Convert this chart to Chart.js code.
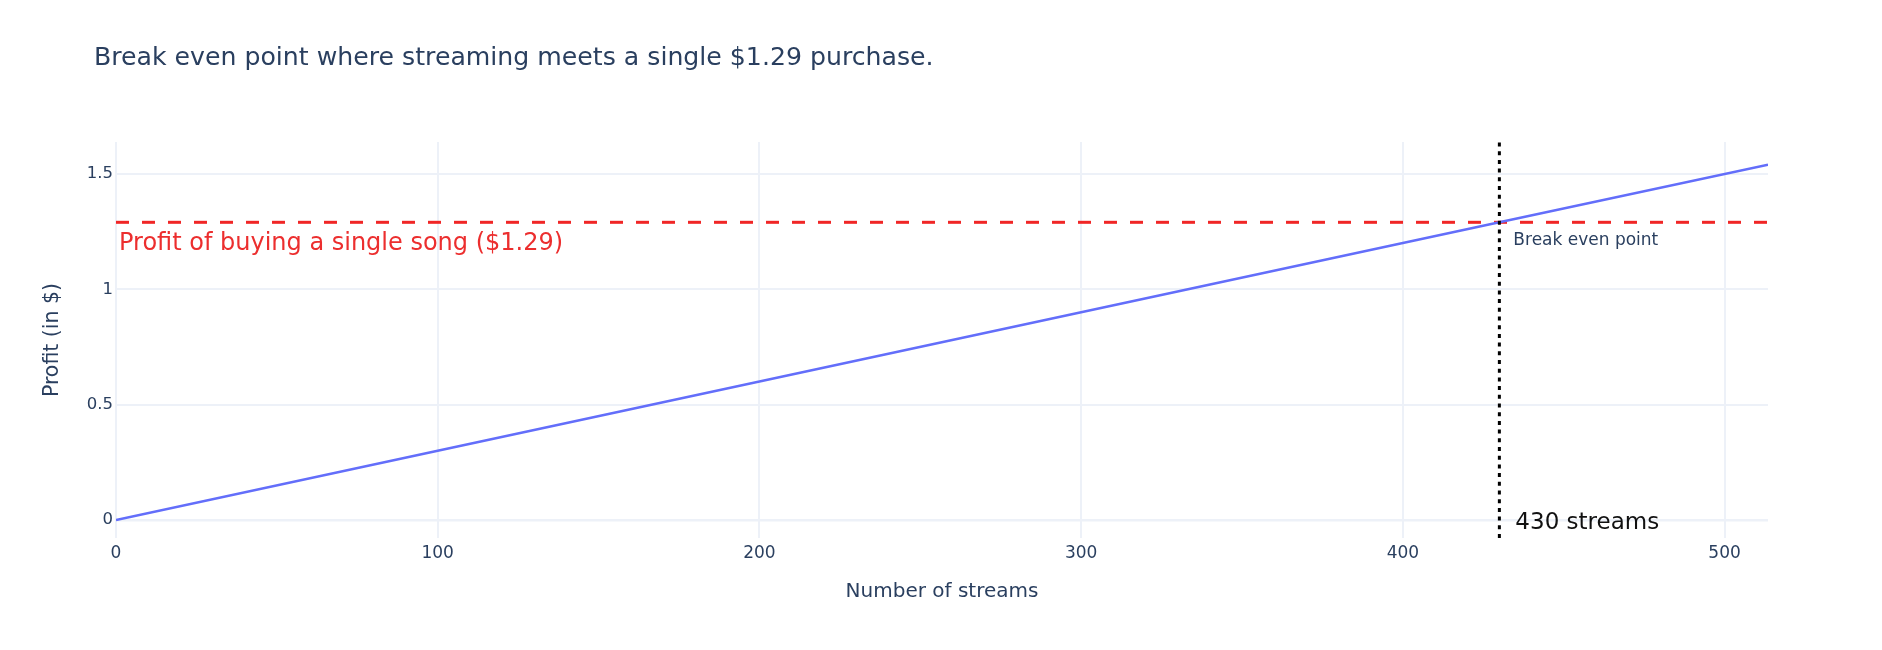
<!DOCTYPE html>
<html>
<head>
<meta charset="utf-8">
<script src="https://cdn.jsdelivr.net/npm/chart.js@4.4.1/dist/chart.umd.min.js"></script>
<style>
  html, body { margin: 0; padding: 0; background: #ffffff; }
  #wrap { width: 1882px; height: 650px; position: relative; }
</style>
</head>
<body>
<div id="wrap"><canvas id="c" width="1882" height="650"></canvas></div>
<script>
// ---- data ----
const titleText = 'Break even point where streaming meets a single $1.29 purchase.';
const xAxisTitle = 'Number of streams';
const yAxisTitle = 'Profit (in $)';
const streams = [0, 100, 200, 300, 400, 430, 513.5];
const profit = [0, 0.3, 0.6, 0.9, 1.2, 1.29, 1.54];
const singlePrice = 1.29;
const breakEvenStreams = 430;
const xTicks = [0, 100, 200, 300, 400, 500];
const xTickLabels = ['0', '100', '200', '300', '400', '500'];
const yTicks = [0, 0.5, 1, 1.5];
const yTickLabels = ['0', '0.5', '1', '1.5'];
const xRange = [0, 513.5];
const yRange = [-0.078, 1.638];
const priceLabel = 'Profit of buying a single song ($1.29)';
const breakEvenLabel = 'Break even point';
const streamsLabel = '430 streams';

// ---- styles ----
const FONT = "'DejaVu Sans', Verdana, sans-serif";
const TEXT = '#2a3f5f';
const GRID = '#edf1f8';

const lineData = streams.map((s, i) => ({ x: s, y: profit[i] }));
const hData = [{ x: xRange[0], y: singlePrice }, { x: xRange[1], y: singlePrice }];
const vData = [{ x: breakEvenStreams, y: yRange[0] }, { x: breakEvenStreams, y: yRange[1] }];

const textPlugin = {
  id: 'texts',
  afterDraw(chart) {
    const ctx = chart.ctx;
    const xs = chart.scales.x, ys = chart.scales.y;
    ctx.save();
    // title
    ctx.font = `25.2px ${FONT}`;
    ctx.fillStyle = TEXT;
    ctx.textAlign = 'left';
    ctx.textBaseline = 'alphabetic';
    ctx.fillText(titleText, 94, 65);
    ctx.textBaseline = 'middle';
    // price label under the dashed line
    ctx.font = `24px ${FONT}`;
    ctx.fillStyle = '#ec2e2e';
    ctx.fillText(priceLabel, xs.getPixelForValue(xRange[0]) + 3, ys.getPixelForValue(singlePrice) + 21);
    // break even label
    ctx.font = `17px ${FONT}`;
    ctx.fillStyle = TEXT;
    ctx.fillText(breakEvenLabel, xs.getPixelForValue(breakEvenStreams) + 14, ys.getPixelForValue(singlePrice) + 18);
    // streams label
    ctx.font = `23px ${FONT}`;
    ctx.fillStyle = '#111111';
    ctx.fillText(streamsLabel, xs.getPixelForValue(breakEvenStreams) + 16, ys.getPixelForValue(0) + 3);
    ctx.restore();
  }
};

new Chart(document.getElementById('c'), {
  type: 'line',
  data: {
    datasets: [
      {
        label: 'hline',
        data: hData,
        borderColor: '#f02626',
        borderWidth: 3,
        borderDash: [13, 13],
        pointRadius: 0,
        order: 2
      },
      {
        label: 'profit',
        data: lineData,
        borderColor: '#636efa',
        borderWidth: 2.5,
        pointRadius: 0,
        tension: 0,
        order: 1
      },
      {
        label: 'vline',
        data: vData,
        borderColor: '#000000',
        borderWidth: 3,
        borderDash: [4, 4.7],
        pointRadius: 0,
        order: 0
      }
    ]
  },
  options: {
    responsive: false,
    animation: false,
    events: [],
    layout: { padding: { left: 0, right: 114, top: 142, bottom: 0 } },
    plugins: {
      legend: { display: false },
      title: { display: false },
      tooltip: { enabled: false }
    },
    scales: {
      x: {
        type: 'linear',
        min: xRange[0],
        max: xRange[1],
        afterBuildTicks(scale) { scale.ticks = xTicks.map(v => ({ value: v })); },
        afterFit(scale) { scale.height = 112; },
        ticks: {
          callback(v) { const i = xTicks.indexOf(v); return i >= 0 ? xTickLabels[i] : ''; },
          font: { family: FONT, size: 17 },
          color: TEXT,
          padding: 5,
          maxRotation: 0,
          autoSkip: false
        },
        grid: { color: GRID, lineWidth: 2, drawTicks: false },
        border: { display: false },
        title: {
          display: true,
          text: xAxisTitle,
          font: { family: FONT, size: 20 },
          color: TEXT,
          padding: { top: 0, bottom: 46 }
        }
      },
      y: {
        type: 'linear',
        min: yRange[0],
        max: yRange[1],
        afterBuildTicks(scale) { scale.ticks = yTicks.map(v => ({ value: v })); },
        afterFit(scale) { scale.width = 116; },
        ticks: {
          callback(v) { const i = yTicks.indexOf(v); return i >= 0 ? yTickLabels[i] : ''; },
          font: { family: FONT, size: 16.5 },
          color: TEXT,
          padding: 3
        },
        grid: {
          color: GRID,
          lineWidth: (c) => (c.tick && c.tick.value === 0 ? 2.5 : 2),
          drawTicks: false
        },
        border: { display: false },
        title: {
          display: true,
          text: yAxisTitle,
          font: { family: FONT, size: 20.5 },
          color: TEXT,
          padding: { top: 40, bottom: 0 }
        }
      }
    }
  },
  plugins: [textPlugin]
});
</script>
</body>
</html>
